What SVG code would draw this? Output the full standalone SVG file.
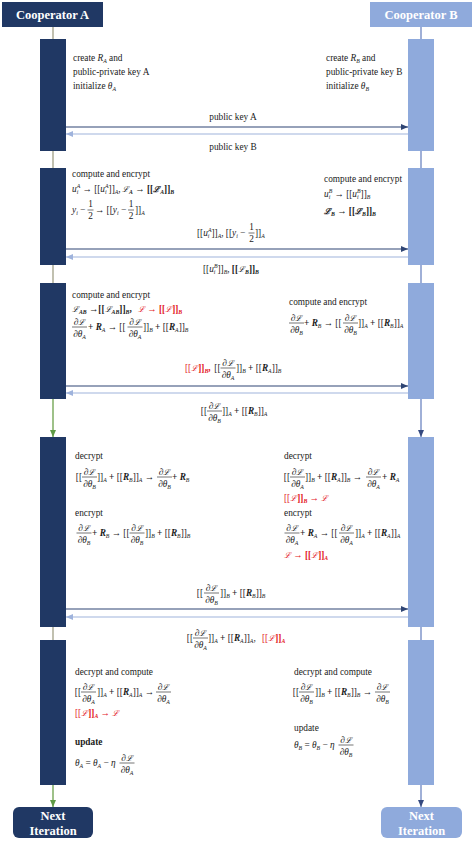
<svg xmlns="http://www.w3.org/2000/svg" xmlns:xlink="http://www.w3.org/1999/xlink" width="474" height="843" viewBox="0 0 474 843">
<style>
.t{font-family:"Liberation Serif","DejaVu Serif",serif;font-size:9.3px;fill:#1a1a1a}
.i{font-style:italic}
.b{font-weight:bold}
.s{font-size:5.8px}
.L{font-size:8px}
.r{fill:#e3141c}
.mid{text-anchor:middle}
.end{text-anchor:end}
.fb{stroke:#1a1a1a;stroke-width:0.6}
.hd{font-family:"Liberation Serif","DejaVu Serif",serif;font-size:12.5px;font-weight:bold;fill:#fff;text-anchor:middle}
.da{fill:#203864}
.lb{fill:#8faadc}
.lo{stroke:#a09f86;stroke-width:1.3;fill:none}
.lg{stroke:#6aa04a;stroke-width:1.3;fill:none}
.lbl{stroke:#6d86c2;stroke-width:1.3;fill:none}
.mr{stroke:#2f4574;stroke-width:1.2;fill:none}
.ml{stroke:#9fb3dc;stroke-width:1.2;fill:none}
</style>
<defs>
<marker id="ah" markerUnits="userSpaceOnUse" markerWidth="8" markerHeight="6" refX="7" refY="3" orient="auto"><path d="M0,0L7,3L0,6z" fill="#2f4574"/></marker>
<marker id="al" markerUnits="userSpaceOnUse" markerWidth="8" markerHeight="6" refX="7" refY="3" orient="auto"><path d="M0,0L7,3L0,6z" fill="#9fb3dc"/></marker>
<marker id="ag" markerUnits="userSpaceOnUse" markerWidth="8" markerHeight="6" refX="7" refY="3" orient="auto"><path d="M0,0L7,3L0,6z" fill="#5f9a45"/></marker>
<marker id="ab" markerUnits="userSpaceOnUse" markerWidth="8" markerHeight="6" refX="7" refY="3" orient="auto"><path d="M0,0L7,3L0,6z" fill="#34497f"/></marker>
<g id="fA"><text class="t i mid" y="-5.5">∂<tspan class="L">ℒ</tspan></text><line class="fb" x1="-7.5" x2="7.5" y1="-3" y2="-3"/><text class="t i mid" y="6.5">∂θ<tspan class="s" dy="2">A</tspan></text></g>
<g id="fB"><text class="t i mid" y="-5.5">∂<tspan class="L">ℒ</tspan></text><line class="fb" x1="-7.5" x2="7.5" y1="-3" y2="-3"/><text class="t i mid" y="6.5">∂θ<tspan class="s" dy="2">B</tspan></text></g>
<g id="h"><text class="t mid" y="-6">1</text><line class="fb" x1="-3" x2="3" y1="-3" y2="-3"/><text class="t mid" y="5.6">2</text></g>
</defs>
<rect width="474" height="843" fill="#fff"/>

<g id="connectors">
<line class="lo" x1="53" y1="27" x2="53" y2="39"/>
<line class="lo" x1="53" y1="151" x2="53" y2="168"/>
<line class="lo" x1="53" y1="265" x2="53" y2="283"/>
<line class="lg" x1="53" y1="399" x2="53" y2="437" marker-end="url(#ag)"/>
<line class="lo" x1="53" y1="627" x2="53" y2="640"/>
<line class="lg" x1="53" y1="785" x2="53" y2="807" marker-end="url(#ag)"/>
<line class="lbl" x1="421" y1="27" x2="421" y2="39"/>
<line class="lbl" x1="421" y1="151" x2="421" y2="168"/>
<line class="lbl" x1="421" y1="265" x2="421" y2="283"/>
<line class="lbl" x1="421" y1="399" x2="421" y2="437" marker-end="url(#ab)"/>
<line class="lbl" x1="421" y1="627" x2="421" y2="640"/>
<line class="lbl" x1="421" y1="785" x2="421" y2="807" marker-end="url(#ab)"/>
<line class="mr" x1="66" y1="127" x2="408" y2="127" marker-end="url(#ah)"/>
<line class="ml" x1="408" y1="134" x2="66" y2="134" marker-end="url(#al)"/>
<line class="mr" x1="66" y1="249" x2="408" y2="249" marker-end="url(#ah)"/>
<line class="ml" x1="408" y1="257" x2="66" y2="257" marker-end="url(#al)"/>
<line class="mr" x1="66" y1="386" x2="408" y2="386" marker-end="url(#ah)"/>
<line class="ml" x1="408" y1="393" x2="66" y2="393" marker-end="url(#al)"/>
<line class="mr" x1="66" y1="609" x2="408" y2="609" marker-end="url(#ah)"/>
<line class="ml" x1="408" y1="617" x2="66" y2="617" marker-end="url(#al)"/>
</g>

<g id="cooperatorA">
<rect class="da" x="2" y="2" width="101" height="25"/>
<text class="hd" x="52.5" y="19">Cooperator A</text>
</g>
<g id="cooperatorB">
<rect class="lb" x="370" y="2" width="102" height="25"/>
<text class="hd" x="421" y="19">Cooperator B</text>
</g>

<g id="barsA">
<rect class="da" x="40" y="39" width="26" height="112"/>
<rect class="da" x="40" y="168" width="26" height="97"/>
<rect class="da" x="40" y="283" width="26" height="116"/>
<rect class="da" x="40" y="437" width="26" height="190"/>
<rect class="da" x="40" y="640" width="26" height="145"/>
</g>
<g id="barsB">
<rect class="lb" x="408" y="39" width="26" height="112"/>
<rect class="lb" x="408" y="168" width="26" height="97"/>
<rect class="lb" x="408" y="283" width="26" height="116"/>
<rect class="lb" x="408" y="437" width="26" height="190"/>
<rect class="lb" x="408" y="640" width="26" height="145"/>
</g>

<g id="nextA">
<rect class="da" x="13" y="807" width="80" height="31" rx="6"/>
<text class="hd" x="53" y="820">Next</text>
<text class="hd" x="53" y="835">Iteration</text>
</g>
<g id="nextB">
<rect class="lb" x="381" y="807" width="81" height="31" rx="6"/>
<text class="hd" x="421.5" y="820">Next</text>
<text class="hd" x="421.5" y="835">Iteration</text>
</g>

<g id="step1">
<text class="t" x="73" y="61">create <tspan class="i">R</tspan><tspan class="s i" dy="2">A</tspan><tspan dy="-2"> and</tspan></text>
<text class="t" x="73" y="75">public-private key A</text>
<text class="t" x="73" y="89">initialize <tspan class="i">θ</tspan><tspan class="s i" dy="2">A</tspan></text>
<text class="t" x="326" y="61">create <tspan class="i">R</tspan><tspan class="s i" dy="2">B</tspan><tspan dy="-2"> and</tspan></text>
<text class="t" x="326" y="75">public-private key B</text>
<text class="t" x="326" y="89">initialize <tspan class="i">θ</tspan><tspan class="s i" dy="2">B</tspan></text>
<text class="t mid" x="233" y="120">public key A</text>
<text class="t mid" x="233" y="150">public key B</text>
</g>

<g id="step2">
<text class="t" x="72" y="177">compute and encrypt</text>
<text class="t" x="72" y="192"><tspan class="i">u</tspan><tspan class="s i" dy="2">i</tspan><tspan class="s i" dx="-1.6" dy="-6">A</tspan><tspan dy="4"> → [[</tspan><tspan class="i">u</tspan><tspan class="s i" dy="2">i</tspan><tspan class="s i" dx="-1.6" dy="-6">A</tspan><tspan dy="4">]]</tspan><tspan class="s i" dy="2">A</tspan><tspan dy="-2">,</tspan></text>
<text class="t" x="122" y="192"><tspan class="i L">ℒ</tspan><tspan class="s i b" dy="2">A</tspan><tspan class="b" dy="-2"> →</tspan></text>
<text class="t b" x="147" y="192">[[<tspan class="i L">ℒ</tspan><tspan class="s i" dy="2">A</tspan><tspan dy="-2">]]</tspan><tspan class="s i" dy="2">B</tspan></text>
<text class="t" x="72" y="213"><tspan class="i">y</tspan><tspan class="s i" dy="2">i</tspan><tspan dy="-2"> −</tspan></text>
<use href="#h" x="90.5" y="213"/>
<text class="t" x="95" y="213">→ [[<tspan class="i">y</tspan><tspan class="s i" dy="2">i</tspan><tspan dy="-2"> −</tspan></text>
<use href="#h" x="131" y="213"/>
<text class="t" x="135" y="213">]]<tspan class="s i" dy="2">A</tspan></text>
<text class="t" x="324" y="182">compute and encrypt</text>
<text class="t" x="324" y="197"><tspan class="i">u</tspan><tspan class="s i" dy="2">i</tspan><tspan class="s i" dx="-1.6" dy="-6">B</tspan><tspan dy="4"> → [[</tspan><tspan class="i">u</tspan><tspan class="s i" dy="2">i</tspan><tspan class="s i" dx="-1.6" dy="-6">B</tspan><tspan dy="4">]]</tspan><tspan class="s i" dy="2">B</tspan></text>
<text class="t b" x="324" y="214"><tspan class="i L">ℒ</tspan><tspan class="s i" dy="2">B</tspan><tspan dy="-2"> → [[</tspan><tspan class="i L">ℒ</tspan><tspan class="s i" dy="2">B</tspan><tspan dy="-2">]]</tspan><tspan class="s i" dy="2">B</tspan></text>
<text class="t" x="197" y="236">[[<tspan class="i">u</tspan><tspan class="s i" dy="2">i</tspan><tspan class="s i" dx="-1.6" dy="-6">A</tspan><tspan dy="4">]]</tspan><tspan class="s i" dy="2">A</tspan><tspan dy="-2">, [[</tspan><tspan class="i">y</tspan><tspan class="s i" dy="2">i</tspan><tspan dy="-2"> −</tspan></text>
<use href="#h" x="251.5" y="236"/>
<text class="t" x="255" y="236">]]<tspan class="s i" dy="2">A</tspan></text>
<text class="t" x="203" y="272">[[<tspan class="i">u</tspan><tspan class="s i" dy="2">i</tspan><tspan class="s i" dx="-1.6" dy="-6">B</tspan><tspan dy="4">]]</tspan><tspan class="s i" dy="2">B</tspan><tspan dy="-2">, </tspan><tspan class="b">[[</tspan><tspan class="i L">ℒ</tspan><tspan class="s i b" dy="2">B</tspan><tspan class="b" dy="-2">]]</tspan><tspan class="s i b" dy="2">B</tspan></text>
</g>

<g id="step3">
<text class="t" x="72" y="298">compute and encrypt</text>
<text class="t" x="72" y="312"><tspan class="i L">ℒ</tspan><tspan class="s i b" dy="2">AB</tspan><tspan class="b" dy="-2"> →[[</tspan><tspan class="i L">ℒ</tspan><tspan class="s i b" dy="2">AB</tspan><tspan class="b" dy="-2">]]</tspan><tspan class="s i b" dy="2">B</tspan><tspan class="b" dy="-2">,</tspan></text>
<text class="t r" x="138" y="312"><tspan class="i L">ℒ</tspan> → <tspan class="b">[[</tspan><tspan class="i L">ℒ</tspan><tspan class="b">]]</tspan><tspan class="s i b" dy="2">B</tspan></text>
<use href="#fA" x="79.5" y="330"/>
<text class="t" x="88" y="330"><tspan class="b">+ </tspan><tspan class="i b">R</tspan><tspan class="s i" dy="2">A</tspan><tspan dy="-2"> → [[</tspan></text>
<use href="#fA" x="135" y="330"/>
<text class="t" x="143" y="330">]]<tspan class="s i" dy="2">B</tspan><tspan class="b" dy="-2"> + </tspan>[[<tspan class="i b">R</tspan><tspan class="s i" dy="2">A</tspan><tspan dy="-2">]]</tspan><tspan class="s i" dy="2">B</tspan></text>
<text class="t" x="289" y="305">compute and encrypt</text>
<use href="#fB" x="296.5" y="326"/>
<text class="t" x="304" y="326"><tspan class="b">+ </tspan><tspan class="i b">R</tspan><tspan class="s i" dy="2">B</tspan><tspan dy="-2"> → [[</tspan></text>
<use href="#fB" x="350.5" y="326"/>
<text class="t" x="358" y="326">]]<tspan class="s i" dy="2">A</tspan><tspan class="b" dy="-2"> + </tspan>[[<tspan class="i b">R</tspan><tspan class="s i" dy="2">B</tspan><tspan dy="-2">]]</tspan><tspan class="s i" dy="2">A</tspan></text>
<text class="t r" x="185" y="371">[[<tspan class="i L">ℒ</tspan><tspan class="b">]]</tspan><tspan class="s i b" dy="2">B</tspan><tspan class="b" dy="-2">,</tspan></text>
<text class="t end" x="220.5" y="371">[[</text>
<use href="#fA" x="228" y="371"/>
<text class="t" x="236" y="371">]]<tspan class="s i" dy="2">B</tspan><tspan class="b" dy="-2"> + </tspan>[[<tspan class="i b">R</tspan><tspan class="s i" dy="2">A</tspan><tspan dy="-2">]]</tspan><tspan class="s i" dy="2">B</tspan></text>
<text class="t end" x="207" y="414">[[</text>
<use href="#fB" x="214.5" y="414"/>
<text class="t" x="222" y="414">]]<tspan class="s i" dy="2">A</tspan><tspan class="b" dy="-2"> + </tspan>[[<tspan class="i b">R</tspan><tspan class="s i" dy="2">B</tspan><tspan dy="-2">]]</tspan><tspan class="s i" dy="2">A</tspan></text>
</g>

<g id="step4">
<text class="t" x="75" y="459">decrypt</text>
<text class="t end" x="82" y="480">[[</text>
<use href="#fB" x="89.5" y="480"/>
<text class="t" x="97" y="480">]]<tspan class="s i" dy="2">A</tspan><tspan class="b" dy="-2"> + </tspan>[[<tspan class="i b">R</tspan><tspan class="s i" dy="2">B</tspan><tspan dy="-2">]]</tspan><tspan class="s i" dy="2">A</tspan><tspan class="b" dy="-2"> →</tspan></text>
<use href="#fB" x="164.5" y="480"/>
<text class="t" x="172" y="480"><tspan class="b">+ </tspan><tspan class="i b">R</tspan><tspan class="s i" dy="2">B</tspan></text>
<text class="t" x="75" y="516">encrypt</text>
<use href="#fB" x="84" y="536"/>
<text class="t" x="92" y="536"><tspan class="b">+ </tspan><tspan class="i b">R</tspan><tspan class="s i" dy="2">B</tspan><tspan dy="-2"> → [[</tspan></text>
<use href="#fB" x="137" y="536"/>
<text class="t" x="145" y="536">]]<tspan class="s i" dy="2">B</tspan><tspan class="b" dy="-2"> + </tspan>[[<tspan class="i b">R</tspan><tspan class="s i" dy="2">B</tspan><tspan dy="-2">]]</tspan><tspan class="s i" dy="2">B</tspan></text>

<text class="t" x="284" y="459">decrypt</text>
<text class="t end" x="290" y="480">[[</text>
<use href="#fA" x="297.5" y="480"/>
<text class="t" x="305" y="480">]]<tspan class="s i" dy="2">B</tspan><tspan class="b" dy="-2"> + </tspan>[[<tspan class="i b">R</tspan><tspan class="s i" dy="2">A</tspan><tspan dy="-2">]]</tspan><tspan class="s i" dy="2">B</tspan><tspan class="b" dy="-2"> →</tspan></text>
<use href="#fA" x="373.5" y="480"/>
<text class="t" x="382" y="480"><tspan class="b">+ </tspan><tspan class="i b">R</tspan><tspan class="s i" dy="2">A</tspan></text>
<text class="t r" x="284" y="501">[[<tspan class="i L">ℒ</tspan><tspan class="b">]]</tspan><tspan class="s i b" dy="2">B</tspan><tspan class="b" dy="-2"> → </tspan><tspan class="i L">ℒ</tspan></text>
<text class="t" x="284" y="516">encrypt</text>
<use href="#fA" x="292" y="536"/>
<text class="t" x="300" y="536"><tspan class="b">+ </tspan><tspan class="i b">R</tspan><tspan class="s i" dy="2">A</tspan><tspan dy="-2"> → [[</tspan></text>
<use href="#fA" x="346.5" y="536"/>
<text class="t" x="355" y="536">]]<tspan class="s i" dy="2">A</tspan><tspan class="b" dy="-2"> + </tspan>[[<tspan class="i b">R</tspan><tspan class="s i" dy="2">A</tspan><tspan dy="-2">]]</tspan><tspan class="s i" dy="2">A</tspan></text>
<text class="t r" x="284" y="558"><tspan class="i L">ℒ</tspan><tspan class="b"> → [[</tspan><tspan class="i L">ℒ</tspan><tspan class="b">]]</tspan><tspan class="s i b" dy="2">A</tspan></text>

<text class="t end" x="203" y="596">[[</text>
<use href="#fB" x="211.5" y="596"/>
<text class="t" x="220" y="596">]]<tspan class="s i" dy="2">B</tspan><tspan class="b" dy="-2"> + </tspan>[[<tspan class="i b">R</tspan><tspan class="s i" dy="2">B</tspan><tspan dy="-2">]]</tspan><tspan class="s i" dy="2">B</tspan></text>
<text class="t end" x="193" y="641">[[</text>
<use href="#fA" x="200.5" y="641"/>
<text class="t" x="208" y="641">]]<tspan class="s i" dy="2">A</tspan><tspan class="b" dy="-2"> + </tspan>[[<tspan class="i b">R</tspan><tspan class="s i" dy="2">A</tspan><tspan dy="-2">]]</tspan><tspan class="s i" dy="2">A</tspan><tspan dy="-2">,</tspan></text>
<text class="t r" x="262" y="641">[[<tspan class="i L">ℒ</tspan><tspan class="b">]]</tspan><tspan class="s i b" dy="2">A</tspan></text>
</g>

<g id="step5">
<text class="t" x="75" y="675">decrypt and compute</text>
<text class="t end" x="81" y="695">[[</text>
<use href="#fA" x="88.5" y="695"/>
<text class="t" x="97" y="695">]]<tspan class="s i" dy="2">A</tspan><tspan class="b" dy="-2"> + </tspan>[[<tspan class="i b">R</tspan><tspan class="s i" dy="2">A</tspan><tspan dy="-2">]]</tspan><tspan class="s i" dy="2">A</tspan><tspan dy="-2"> →</tspan></text>
<use href="#fA" x="163.5" y="695"/>
<text class="t r" x="75" y="716">[[<tspan class="i L">ℒ</tspan><tspan class="b">]]</tspan><tspan class="s i b" dy="2">A</tspan><tspan class="b" dy="-2"> → </tspan><tspan class="i L">ℒ</tspan></text>
<text class="t b" x="75" y="745">update</text>
<text class="t" x="75" y="766"><tspan class="i">θ</tspan><tspan class="s i" dy="2">A</tspan><tspan dy="-2"> = </tspan><tspan class="i">θ</tspan><tspan class="s i" dy="2">A</tspan><tspan dy="-2"> − </tspan><tspan class="i">η</tspan></text>
<use href="#fA" x="127" y="766"/>

<text class="t" x="294" y="675">decrypt and compute</text>
<text class="t end" x="299" y="695">[[</text>
<use href="#fB" x="306.5" y="695"/>
<text class="t" x="315" y="695">]]<tspan class="s i" dy="2">B</tspan><tspan class="b" dy="-2"> + </tspan>[[<tspan class="i b">R</tspan><tspan class="s i" dy="2">B</tspan><tspan dy="-2">]]</tspan><tspan class="s i" dy="2">B</tspan><tspan class="b" dy="-2"> →</tspan></text>
<use href="#fB" x="382.5" y="695"/>
<text class="t" x="294" y="731">update</text>
<text class="t" x="294" y="748"><tspan class="i">θ</tspan><tspan class="s i" dy="2">B</tspan><tspan dy="-2"> = </tspan><tspan class="i">θ</tspan><tspan class="s i" dy="2">B</tspan><tspan dy="-2"> − </tspan><tspan class="i">η</tspan></text>
<use href="#fB" x="346" y="748"/>
</g>
</svg>
